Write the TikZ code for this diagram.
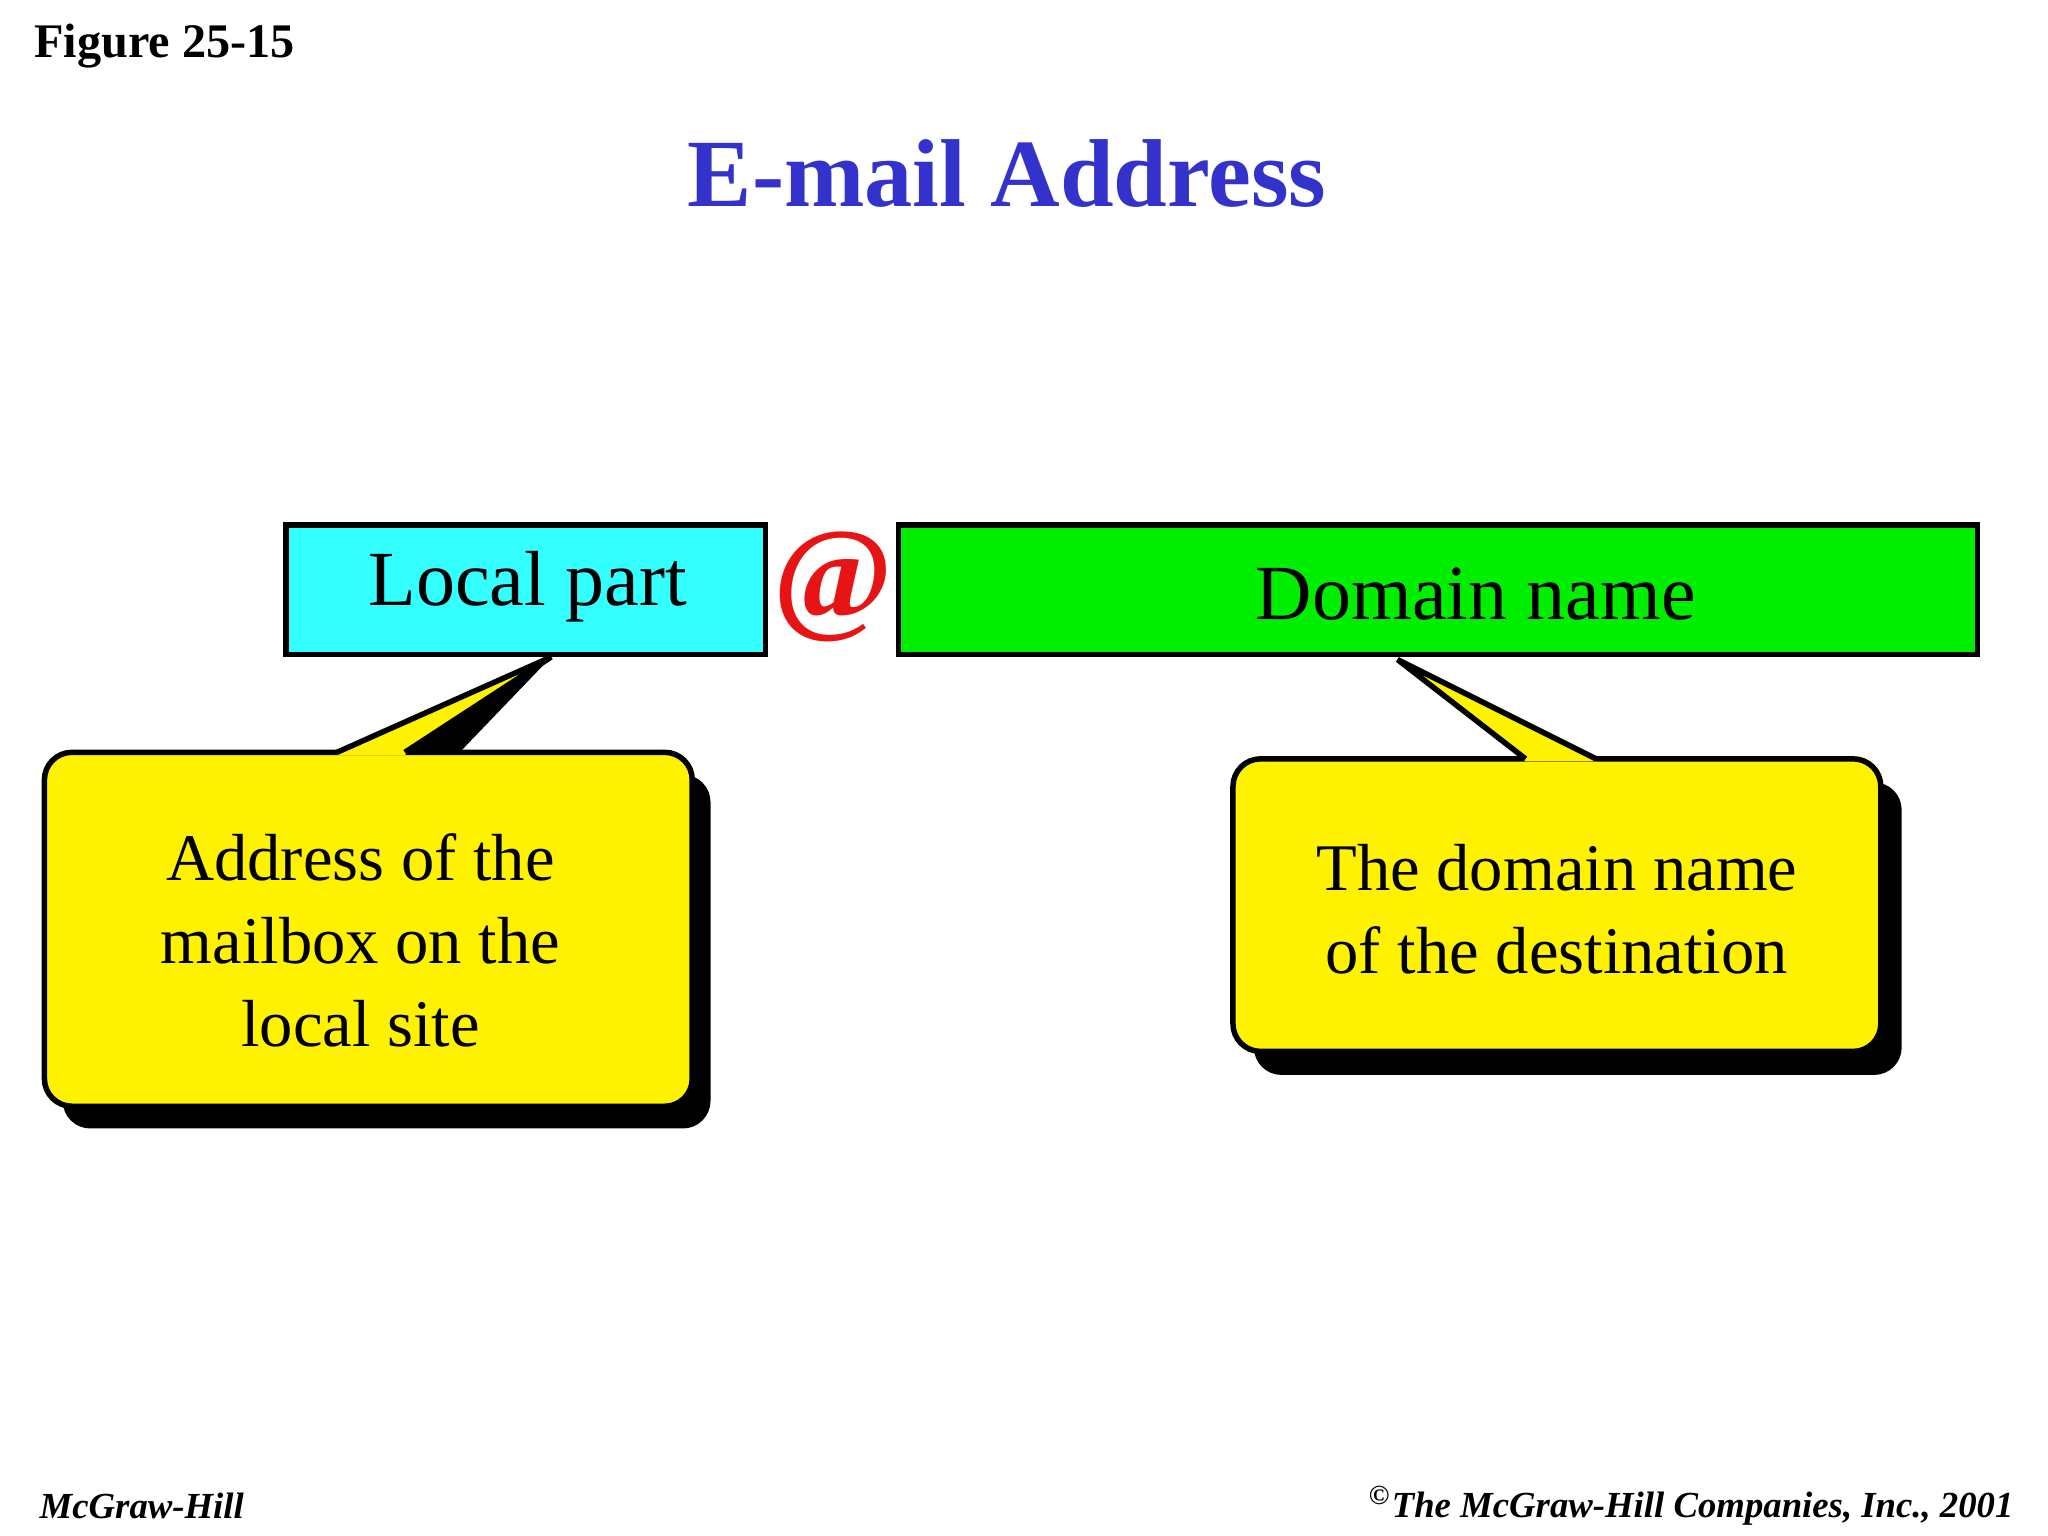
\documentclass[tikz,border=0pt]{standalone}
\usepackage{fontspec}
\setmainfont{Liberation Serif}
\begin{document}
\begin{tikzpicture}[x=0.01cm,y=-0.01cm,
  lbl/.style={font=\fontsize{17pt}{20pt}\selectfont},
  ctext/.style={align=center,font=\fontsize{14.5pt}{18pt}\selectfont},
  callout/.style={fill=yellow,draw=black,line width=1.2pt},
  shadow/.style={fill=black}]
\useasboundingbox (0,0) rectangle (1568,1176);
\node[anchor=west,font=\bfseries\fontsize{10.5pt}{12pt}\selectfont] (fig) at (14,35) {Figure 25-15};
\node[font=\bfseries\fontsize{21pt}{26pt}\selectfont,text={rgb,255:red,51;green,51;blue,204}] (title) at (771,133) {E-mail Address};
\draw[line width=1.2pt,fill={rgb,255:red,51;green,255;blue,255}] (219,402) rectangle (586,501);
\node[lbl] (lpt) at (404,449) {Local part};
\node[font=\bfseries\fontsize{28pt}{32pt}\selectfont,text={rgb,255:red,230;green,20;blue,20}] (at) at (638,449) {@};
\draw[line width=1.2pt,fill={rgb,255:red,0;green,238;blue,0}] (688,402) rectangle (1514,501);
\node[lbl] (dn) at (1130,455) {Domain name};
% left callout
\begin{scope}[shift={(14,17)}]
\fill[shadow,rounded corners=6pt] (34,576) rectangle (530,847);
\end{scope}
\fill[shadow] (300,578) -- (422,503) -- (350,578) -- cycle;
\draw[callout,rounded corners=6pt] (34,576) rectangle (530,847);
\fill[yellow] (258,578) -- (422,503) -- (310,578) -- cycle;
\draw[line width=1.2pt] (258,576) -- (422,503) -- (310,576);
\node[ctext] (lt) at (276,720) {Address of the\\mailbox on the\\local site};
% right callout
\begin{scope}[shift={(16,18)}]
\fill[shadow,rounded corners=6pt] (944,581) rectangle (1440,805);
\end{scope}
\draw[callout,rounded corners=6pt] (944,581) rectangle (1440,805);
\fill[yellow] (1168,583) -- (1070,505) -- (1222,583) -- cycle;
\draw[line width=1.2pt] (1168,581) -- (1070,505) -- (1222,581);
\node[ctext] (rt) at (1192,696) {The domain name\\of the destination};
\node[anchor=west,font=\itshape\bfseries\fontsize{8pt}{9pt}\selectfont] (f1) at (18,1153) {McGraw-Hill};
\node[anchor=east,font=\itshape\bfseries\fontsize{8pt}{9pt}\selectfont] (f2) at (1554,1153) {\textsuperscript{\textcopyright}The McGraw-Hill Companies, Inc., 2001};
\end{tikzpicture}
\end{document}
